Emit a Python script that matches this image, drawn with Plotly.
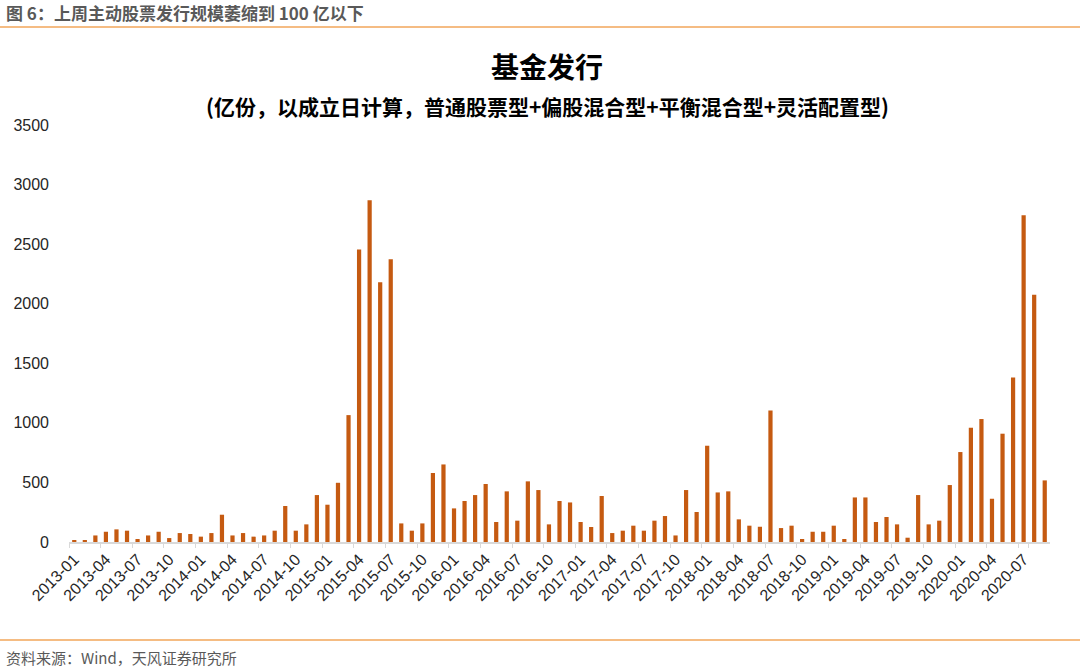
import plotly.graph_objects as go

months = [f"{y}-{m:02d}" for y in range(2013, 2021) for m in range(1, 13)][:93]

values = [
    15, 15, 55, 86, 106, 95, 25, 55, 86, 33, 75, 67,          # 2013
    45, 75, 229, 55, 75, 45, 55, 95, 302, 95, 148, 394,       # 2014
    313, 497, 1065, 2455, 2869, 2181, 2374, 156, 95, 156, 579, 651,  # 2015
    282, 344, 394, 487, 168, 425, 179, 509, 436, 148, 344, 332,      # 2016
    168, 126, 386, 75, 95, 137, 95, 179, 218, 55, 436, 252,          # 2017
    808, 416, 425, 190, 137, 128, 1104, 117, 137, 25, 86, 86,        # 2018
    137, 25, 374, 374, 168, 210, 148, 36, 394, 148, 179, 478,        # 2019
    755, 959, 1032, 363, 909, 1381, 2743, 2075, 517,                 # 2020
]

tick_labels = months[::3]

header = "图 6：上周主动股票发行规模萎缩到 100 亿以下"
title = "基金发行"
subtitle = "(亿份，以成立日计算，普通股票型+偏股混合型+平衡混合型+灵活配置型)"
source = "资料来源：Wind，天风证券研究所"

W, H = 1080, 669
L, R, T, B = 69, 1050, 125, 542

def px(x):
    return (x - L) / (R - L)

def py(y):
    return (B - y) / (B - T)

fig = go.Figure(go.Bar(
    x=months, y=values,
    marker=dict(color="#C55A11", line=dict(width=0)),
    width=0.4,
))

cjk = "Noto Sans CJK SC"
num = "Liberation Sans, Arial"

fig.update_layout(
    width=W, height=H,
    margin=dict(l=L, r=W - R, t=T, b=H - B, pad=0),
    paper_bgcolor="white", plot_bgcolor="white",
    showlegend=False,
    xaxis=dict(
        type="category",
        tickmode="array", tickvals=tick_labels, ticktext=tick_labels,
        tickson="boundaries",
        ticks="outside", ticklen=4, tickcolor="#D9D9D9",
        showline=True, linecolor="#D9D9D9", linewidth=1.5,
        showgrid=False,
        tickangle=-45,
        tickfont=dict(family=num, size=16, color="#262626"),
        range=[-0.5, len(months) - 0.5],
    ),
    yaxis=dict(
        range=[0, 3500], tickvals=[0, 500, 1000, 1500, 2000, 2500, 3000, 3500],
        showgrid=False, zeroline=False, showline=False,
        ticks="", ticklabelstandoff=19,
        tickfont=dict(family=num, size=16, color="#262626"),
    ),
    shapes=[
        dict(type="line", xref="paper", yref="paper", x0=px(0), x1=px(W), y0=py(27), y1=py(27),
             line=dict(color="#F2A65A", width=1.5)),
        dict(type="line", xref="paper", yref="paper", x0=px(0), x1=px(W), y0=py(640), y1=py(640),
             line=dict(color="#F2A65A", width=1.5)),
    ],
    annotations=[
        dict(text=f"<b>{header}</b>", xref="paper", yref="paper", x=px(4), y=py(13),
             xanchor="left", yanchor="middle", showarrow=False,
             font=dict(family=cjk, size=17, color="#595959")),
        dict(text=f"<b>{title}</b>", xref="paper", yref="paper", x=px(547), y=py(66),
             xanchor="center", yanchor="middle", showarrow=False,
             font=dict(family=cjk, size=28, color="#000000")),
        dict(text=f"<b>{subtitle}</b>", xref="paper", yref="paper", x=px(547), y=py(106),
             xanchor="center", yanchor="middle", showarrow=False,
             font=dict(family=cjk, size=21, color="#000000")),
        dict(text=source, xref="paper", yref="paper", x=px(4), y=py(657),
             xanchor="left", yanchor="middle", showarrow=False,
             font=dict(family=cjk, size=15, color="#595959")),
    ],
)

fig.write_html(
    "out.html",
    config={"displayModeBar": False},
    post_script="document.body.style.margin='0';document.body.style.padding='0';",
)
